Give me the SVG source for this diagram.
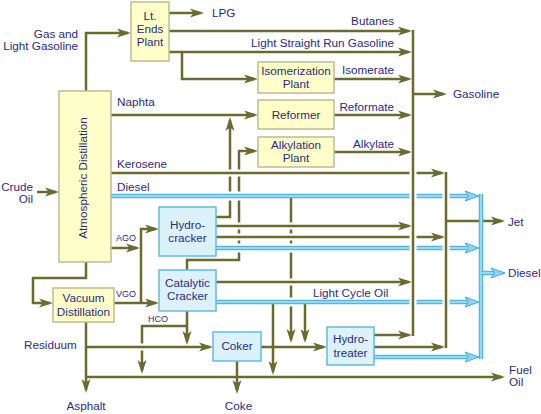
<svg xmlns="http://www.w3.org/2000/svg" width="541" height="414" viewBox="0 0 541 414">
<defs>
<style>
text{font-family:"Liberation Sans",Arial,sans-serif;font-size:11.7px;fill:#2b2b7e}
.m{text-anchor:middle}
.e{text-anchor:end}
.s{font-size:9px}
.y{fill:#ffffc9;stroke:#bdbd92;stroke-width:1.5}
.b{fill:#dcf2fa;stroke:#62bce3;stroke-width:1.5}
.o{fill:none;stroke:#6b6b30;stroke-width:2.5}
.oa{fill:none;stroke:#6b6b30;stroke-width:2.5;marker-end:url(#ao)}
.bo{fill:none;stroke:#52b6e3;stroke-width:4.5}
.bi{fill:none;stroke:#b4e2f5;stroke-width:1.5}
.bia{fill:none;stroke:#b4e2f5;stroke-width:1.5;marker-end:url(#ab)}
.g{fill:#fff}
</style>
<marker id="ao" viewBox="0 0 14 10" refX="11" refY="5" markerWidth="14" markerHeight="10" markerUnits="userSpaceOnUse" orient="auto"><path d="M0,0.5 L14,5 L0,9.5 L3.5,5 z" fill="#6b6b30"/></marker>
<marker id="ab" viewBox="-1 -1 16 12" refX="11" refY="5" markerWidth="16" markerHeight="12" markerUnits="userSpaceOnUse" orient="auto"><path d="M0,0 L14,5 L0,10 L3.5,5 z" fill="#8fd3f0" stroke="#45ace0" stroke-width="1"/></marker>
</defs>
<rect width="541" height="414" fill="#fff"/>
<g id="connectors">
  <!-- layer 1: lines passing under -->
  <path class="oa" d="M216,217 H230 V120"/>
  <path class="oa" d="M187,270 V260 H239 V151 H255"/>
  <path class="oa" d="M291,198 V340"/>
  <path class="oa" d="M187,326 H142 V371"/>
  <g class="g">
    <rect x="227" y="169.5" width="6" height="7"/>
    <rect x="236" y="169.5" width="6" height="7"/>
    <rect x="227" y="191.5" width="6" height="9"/>
    <rect x="236" y="191.5" width="6" height="9"/>
    <rect x="236" y="222.5" width="6" height="7"/>
    <rect x="236" y="233.5" width="6" height="7"/>
    <rect x="236" y="243.5" width="6" height="9"/>
    <rect x="288" y="222.5" width="6" height="7"/>
    <rect x="288" y="233.5" width="6" height="7"/>
    <rect x="288" y="243.5" width="6" height="9"/>
    <rect x="288" y="278.5" width="6" height="7"/>
    <rect x="288" y="297.5" width="6" height="9"/>
    <rect x="139" y="343.5" width="6" height="7"/>
  </g>
  <!-- layer 2 -->
  <path class="oa" d="M37,192 H56"/>
  <path class="oa" d="M86,91 V33 H128"/>
  <path class="oa" d="M169,13 H201"/>
  <path class="oa" d="M169,31 H409"/>
  <path class="oa" d="M169,52 H409"/>
  <path class="oa" d="M182,52 V79 H255"/>
  <path class="oa" d="M334,79 H409"/>
  <path class="oa" d="M111,115 H255"/>
  <path class="oa" d="M334,115 H409"/>
  <path class="oa" d="M334,152 H409"/>
  <path class="oa" d="M413,94 H444"/>
  <path class="oa" d="M111,173 H442"/>
  <path class="oa" d="M446,221 H502"/>
  <path class="oa" d="M111,248 H137"/>
  <path class="oa" d="M141,303 V229 H156"/>
  <path class="oa" d="M114,303 H156"/>
  <path class="oa" d="M86,262 V278 H33 V303 H50"/>
  <path class="oa" d="M86,322 V390"/>
  <path class="oa" d="M86,347 H210"/>
  <path class="oa" d="M86,377 H502"/>
  <path class="oa" d="M187,311 V342"/>
  <path class="oa" d="M261,347 H324"/>
  <path class="oa" d="M237,361 V391"/>
  <path class="oa" d="M216,226 H409"/>
  <path class="oa" d="M216,237 H442"/>
  <path class="oa" d="M216,282 H409"/>
  <path class="oa" d="M305,304 V340"/>
  <path class="oa" d="M273,304 V372"/>
  <path class="oa" d="M374,335 H409"/>
  <path class="oa" d="M374,347 H442"/>
  <!-- blue streams -->
  <path class="bo" d="M111,196 H469"/><path class="bia" d="M111,196 H476"/>
  <path class="bo" d="M216,248 H469"/><path class="bia" d="M216,248 H476"/>
  <path class="bo" d="M216,302 H469"/><path class="bia" d="M216,302 H476"/>
  <path class="bo" d="M374,357 H469"/><path class="bia" d="M374,357 H476"/>
  <path class="bo" d="M481,194 V359"/><path class="bi" d="M481,194 V359"/>
  <path class="bo" d="M481,273 H495"/><path class="bia" d="M481,273 H502"/>
  <g class="g">
    <rect x="409.5" y="170" width="7" height="6"/>
    <rect x="409.5" y="234" width="7" height="6"/>
    <rect x="409.5" y="192" width="7" height="8"/>
    <rect x="409.5" y="244" width="7" height="8"/>
    <rect x="409.5" y="298" width="7" height="8"/>
    <rect x="442.5" y="192" width="7" height="8"/>
    <rect x="442.5" y="244" width="7" height="8"/>
    <rect x="442.5" y="298" width="7" height="8"/>
  </g>
  <!-- layer 3: collectors -->
  <path class="o" d="M413,30 V336"/>
  <path class="o" d="M446,172 V348"/>
</g>
<g id="atmospheric-distillation">
  <rect class="y" x="59" y="91" width="52" height="171"/>
  <text class="m" transform="translate(87,178) rotate(-90)">Atmospheric Distillation</text>
</g>
<g id="lt-ends-plant">
  <rect class="y" x="131" y="2" width="38" height="59"/>
  <text class="m" x="150" y="20">Lt.</text>
  <text class="m" x="150" y="33">Ends</text>
  <text class="m" x="150" y="46">Plant</text>
</g>
<g id="isomerization-plant">
  <rect class="y" x="258" y="62" width="76" height="31"/>
  <text class="m" x="296" y="75">Isomerization</text>
  <text class="m" x="296" y="87.5">Plant</text>
</g>
<g id="reformer">
  <rect class="y" x="258" y="100" width="76" height="29"/>
  <text class="m" x="296" y="119">Reformer</text>
</g>
<g id="alkylation-plant">
  <rect class="y" x="258" y="137" width="76" height="30"/>
  <text class="m" x="296" y="149">Alkylation</text>
  <text class="m" x="296" y="161.5">Plant</text>
</g>
<g id="hydrocracker">
  <rect class="b" x="159" y="207" width="57" height="49"/>
  <text class="m" x="187.5" y="229">Hydro-</text>
  <text class="m" x="187.5" y="242">cracker</text>
</g>
<g id="catalytic-cracker">
  <rect class="b" x="159" y="270" width="57" height="41"/>
  <text class="m" x="187.5" y="287">Catalytic</text>
  <text class="m" x="187.5" y="300">Cracker</text>
</g>
<g id="vacuum-distillation">
  <rect class="y" x="53" y="288" width="61" height="34"/>
  <text class="m" x="83.5" y="302">Vacuum</text>
  <text class="m" x="83.5" y="316">Distillation</text>
</g>
<g id="coker">
  <rect class="b" x="213" y="332" width="48" height="29"/>
  <text class="m" x="237" y="350">Coker</text>
</g>
<g id="hydrotreater">
  <rect class="b" x="327" y="327" width="47" height="38"/>
  <text class="m" x="350.5" y="343">Hydro-</text>
  <text class="m" x="350.5" y="356.5">treater</text>
</g>
<g id="labels">
  <text class="e" x="78" y="37.5">Gas and</text>
  <text class="e" x="78" y="49.5">Light Gasoline</text>
  <text x="212" y="17">LPG</text>
  <text class="e" x="394" y="24.5">Butanes</text>
  <text class="e" x="394" y="47">Light Straight Run Gasoline</text>
  <text class="e" x="394" y="74">Isomerate</text>
  <text class="e" x="394" y="111">Reformate</text>
  <text class="e" x="394" y="148">Alkylate</text>
  <text x="453" y="97.5">Gasoline</text>
  <text x="117" y="106">Naphta</text>
  <text x="117" y="168">Kerosene</text>
  <text x="117" y="191">Diesel</text>
  <text class="e" x="33" y="190.5">Crude</text>
  <text class="e" x="33" y="203">Oil</text>
  <text class="s" x="116" y="241">AGO</text>
  <text class="s" x="116" y="297">VGO</text>
  <text class="s" x="148" y="322">HCO</text>
  <text x="24" y="349">Residuum</text>
  <text class="m" x="86" y="410">Asphalt</text>
  <text class="m" x="238.5" y="410">Coke</text>
  <text x="313" y="297">Light Cycle Oil</text>
  <text x="508" y="226">Jet</text>
  <text x="508" y="277">Diesel</text>
  <text x="509" y="373.5">Fuel</text>
  <text x="509" y="385.5">Oil</text>
</g>
</svg>
